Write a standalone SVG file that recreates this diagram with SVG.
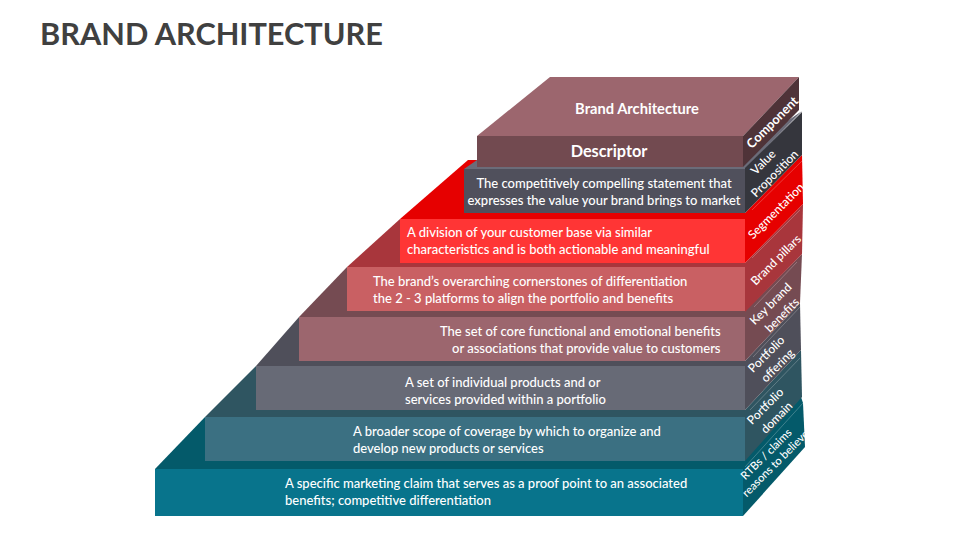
<svg xmlns="http://www.w3.org/2000/svg" width="960" height="540" viewBox="0 0 960 540">
<style>
text{font-family:"Lato","Open Sans","Liberation Sans",sans-serif;fill:#fff;font-size:13px;font-weight:500}
.title{fill:#404040;font-size:30.7px;font-weight:700}
.b{font-weight:700;font-size:14.7px}
.c{text-anchor:middle}
.s{font-size:12px;text-anchor:middle}
.sm{font-size:11.2px;text-anchor:middle}
.sep{stroke:#fff;stroke-opacity:.4;stroke-width:.6;fill:none}
</style>
<rect width="960" height="540" fill="#fff"/>
<text class="title" x="40" y="45">BRAND ARCHITECTURE</text>
<g id="tier-rtb">
<polygon points="155,469 745,469 745,417 205,417" fill="#045A6A"/>
<polygon points="743,461 801,397 803,403 805,447 743,516" fill="#045A6A"/>
<rect x="155" y="469" width="588" height="47" fill="#08748C"/>
<text x="285" y="488">A specific marketing claim that serves as a proof point to an associated</text>
<text x="285" y="505">benefits; competitive differentiation</text>
<line class="sep" x1="745" y1="467" x2="803" y2="403"/>
<g transform="translate(771,459) rotate(-45)"><text class="sm" y="-3">RTBs / claims</text><text class="sm" y="10">reasons to believe</text></g>
</g>
<g id="tier-domain">
<polygon points="205,417 745,417 745,366 256,366" fill="#2F5561"/>
<polygon points="745,410 801,350 802,397 745,461" fill="#2F5561"/>
<rect x="205" y="417" width="540" height="44" fill="#3B7082"/>
<text x="353" y="436">A broader scope of coverage by which to organize and</text>
<text x="353" y="453">develop new products or services</text>
<line class="sep" x1="750" y1="410" x2="800" y2="358"/>
<g transform="translate(771,412) rotate(-45)"><text class="s" y="-4">Portfolio</text><text class="s" y="12">domain</text></g>
</g>
<g id="tier-offering">
<polygon points="256,366 745,366 745,317 299,317" fill="#4F4F5A"/>
<polygon points="745,361 800,303 801,350 745,410" fill="#4F4F5A"/>
<rect x="256" y="366" width="489" height="44" fill="#676A76"/>
<text x="405" y="387">A set of individual products and or</text>
<text x="405" y="404">services provided within a portfolio</text>
<line class="sep" x1="753" y1="357" x2="800" y2="307"/>
<g transform="translate(772,360) rotate(-45)"><text class="s" y="-4">Portfolio</text><text class="s" y="12">offering</text></g>
</g>
<g id="tier-benefits">
<polygon points="299,317 745,317 745,267 347,267" fill="#754B52"/>
<polygon points="745,311 802,254 800,303 745,361" fill="#754B52"/>
<rect x="299" y="317" width="446" height="44" fill="#9C666E"/>
<text x="440" y="336">The set of core functional and emotional benefits</text>
<text x="452" y="353">or associations that provide value to customers</text>
<line class="sep" x1="754" y1="307" x2="797" y2="262"/>
<g transform="translate(776.500,309.500) rotate(-45)"><text class="s" y="-4">Key brand</text><text class="s" y="12">benefits</text></g>
</g>
<g id="tier-pillars">
<polygon points="347,267 745,267 745,219 400,219" fill="#A8363C"/>
<polygon points="745,263 803,204 802,254 745,312" fill="#A8363C"/>
<rect x="347" y="267" width="398" height="44" fill="#C96063"/>
<text x="373" y="286">The brand’s overarching cornerstones of differentiation</text>
<text x="373" y="303">the 2 - 3 platforms to align the portfolio and benefits</text>
<line class="sep" x1="752" y1="258" x2="800" y2="210"/>
<g transform="translate(776,260) rotate(-45)"><text class="s" y="4">Brand pillars</text></g>
</g>
<g id="tier-segmentation">
<polygon points="400,219 745,219 745,160 468,160" fill="#E60000"/>
<polygon points="745,213 802,155 803,204 745,263" fill="#E60000"/>
<rect x="400" y="219" width="345" height="44" fill="#FF3535"/>
<text x="407" y="237">A division of your customer base via similar</text>
<text x="407" y="254">characteristics and is both actionable and meaningful</text>
<line class="sep" x1="752" y1="210" x2="803" y2="160"/>
<g transform="translate(776,211) rotate(-45)"><text class="s" y="4">Segmentation</text></g>
</g>
<g id="tier-value">
<polygon points="464,169 745,169 802,111 745,150 477,160" fill="#6B6C79"/>
<polygon points="745,168 802,112 802,155 745,213" fill="#35363D"/>
<rect x="464" y="169" width="281" height="44" fill="#50505C"/>
<text class="c" x="604" y="188">The competitively compelling statement that</text>
<text class="c" x="604" y="205">expresses the value your brand brings to market</text>
<g transform="translate(769,168) rotate(-45)"><text class="s" y="-4">Value</text><text class="s" y="12">Proposition</text></g>
</g>
<g id="tier-component">
<polygon points="477,136 743,136 799,77 550,77" fill="#9C666E"/>
<polygon points="743,136 799,77 799,110 743,167" fill="#4F3338"/>
<rect x="477" y="136" width="266" height="31" fill="#724A50"/>
<text class="b c" x="637" y="114">Brand Architecture</text>
<text class="b c" x="609" y="157" style="font-size:16.300px">Descriptor</text>
<g transform="translate(772,122) rotate(-45)"><text class="b c" y="5" style="font-size:12.800px">Component</text></g>
</g>
</svg>
